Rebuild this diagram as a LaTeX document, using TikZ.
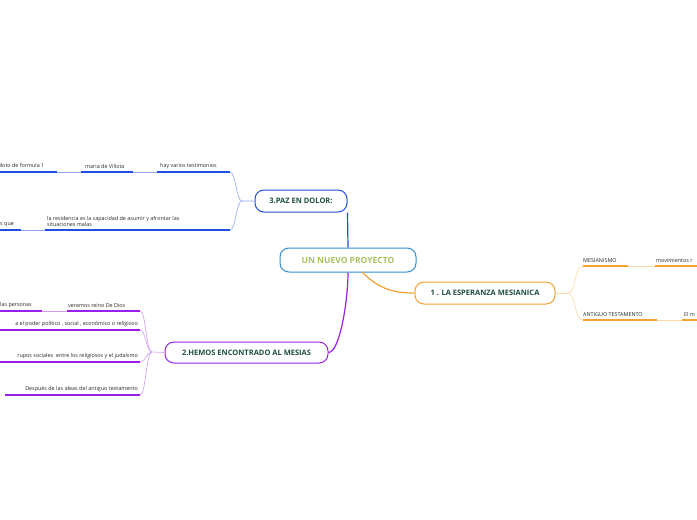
\documentclass[tikz,border=0pt]{standalone}
\usepackage{fontspec}
\setmainfont{Open Sans}
\definecolor{cblue}{HTML}{2E8FD8}
\definecolor{pblue}{HTML}{1F4FE0}
\definecolor{lblue}{HTML}{8FA8F0}
\definecolor{purp}{HTML}{9B1FE8}
\definecolor{lpurp}{HTML}{D29BF5}
\definecolor{oran}{HTML}{F5A030}
\definecolor{loran}{HTML}{FAD9A8}
\definecolor{dgreen}{HTML}{1E4E3C}
\definecolor{ygreen}{HTML}{A8C060}
\begin{document}
\begin{tikzpicture}[x=1pt,y=-1pt,
  mainbox/.style={draw, rounded corners=9pt, line width=1pt, fill=white, font=\bfseries\fontsize{7.5}{8}\selectfont, text=dgreen, inner sep=0pt},
  lbl/.style={font=\fontsize{5.4}{6.5}\selectfont, anchor=south west, inner sep=1pt, text=black!85},
  ul/.style={line width=1.2pt},
  link/.style={line width=0.6pt}]
\useasboundingbox (0,0) rectangle (697,520);
% central
\node[mainbox, draw=cblue, text=ygreen, font=\bfseries\fontsize{8.5}{9}\selectfont, minimum width=136pt, minimum height=24pt] (c) at (348,260) {UN NUEVO PROYECTO};
% 3
\node[mainbox, draw=pblue, minimum width=92pt, minimum height=22pt] (p3) at (301,201) {3.PAZ EN DOLOR:};
\draw[pblue, line width=1.2pt] (c.north) -- (p3.south east|-p3.south) ;
% 3 branches
\coordinate (a1) at (230,172); \coordinate (a2) at (230,230);
\draw[lblue, link] (p3.west) -- (242,201) .. controls (236,201) and (236,172) .. (a1);
\draw[lblue, link] (242,201) .. controls (236,201) and (236,230) .. (a2);
\draw[pblue, ul] (157,172) -- (a1);
\node[lbl] (t1) at (159,170) {hay varios testimonios};
\draw[pblue, ul] (81,172) -- (133,172);
\node[lbl] (t2) at (84,170) {maria de Villota};
\draw[pblue, ul] (0,172) -- (57,172);
\node[lbl] (t3) at (-5,170) {piloto de formula 1};
\draw[lblue, link] (57,172) -- (81,172) (133,172) -- (157,172);
\draw[pblue, ul] (45,230) -- (a2);
\node[lbl, align=left] (t4) at (46,228) {la residencia es la capacidad de asumir y afrontar las\\situaciones malas};
\draw[pblue, ul] (0,230) -- (21,230);
\node[lbl] (t5) at (-4,228) {es que};
\draw[lblue, link] (21,230) -- (45,230);
% 2
\node[mainbox, draw=purp, minimum width=163pt, minimum height=21pt] (p2) at (246.5,352.5) {2.HEMOS ENCONTRADO AL MESIAS};
\draw[purp, line width=1.2pt] (c.south) .. controls (348,300) and (340,352) .. (p2.east);
\coordinate (b0) at (152,352);
\draw[lpurp, link] (p2.west) -- (b0);
\foreach \y in {311,330,362,395}{
  \draw[lpurp, link] (b0) .. controls (146,352) and (146,\y) .. (140,\y);
}
\draw[purp, ul] (67,311) -- (140,311);
\node[lbl] (u1) at (67,309) {veremos reino De Dios};
\draw[purp, ul] (0,311) -- (42,311);
\node[lbl] (u2) at (-1,309) {las personas};
\draw[lpurp, link] (42,311) -- (67,311);
\draw[purp, ul] (0,330) -- (140,330);
\node[lbl, anchor=south east] (u3) at (139,328) {a el poder político , social , económico o religioso};
\draw[purp, ul] (0,362) -- (140,362);
\node[lbl, anchor=south east] (u4) at (139,360) {rupos sociales\ \ entre los religiosos y el judaísmo};
\draw[purp, ul] (5,395) -- (140,395);
\node[lbl, anchor=south east] (u5) at (139,393) {Después de las ideas del antiguo testamento};
% 1
\node[mainbox, draw=oran, minimum width=140pt, minimum height=22pt] (p1) at (485,293) {1 . LA ESPERANZA MESIANICA};
\draw[oran, line width=1.2pt] (362,272) .. controls (380,290) and (395,293) .. (p1.west);
\coordinate (o0) at (568,293);
\draw[loran, link] (p1.east) -- (o0);
\draw[loran, link] (o0) .. controls (576,293) and (574,266) .. (583,266);
\draw[loran, link] (o0) .. controls (576,293) and (574,320) .. (583,320);
\draw[oran, ul] (583,266) -- (628,266);
\node[lbl] (m1) at (582,264) {MESIANISMO};
\draw[loran, link] (628,266) -- (655,266);
\draw[oran, ul] (655,266) -- (697,266);
\node[lbl] (m2) at (655,264) {movimientos r};
\draw[oran, ul] (583,320) -- (657,320);
\node[lbl] (m3) at (582,318) {ANTIGUO TESTAMENTO};
\draw[loran, link] (657,320) -- (682,320);
\draw[oran, ul] (682,320) -- (697,320);
\node[lbl] (m4) at (683,318) {El m};
\end{tikzpicture}
\end{document}
